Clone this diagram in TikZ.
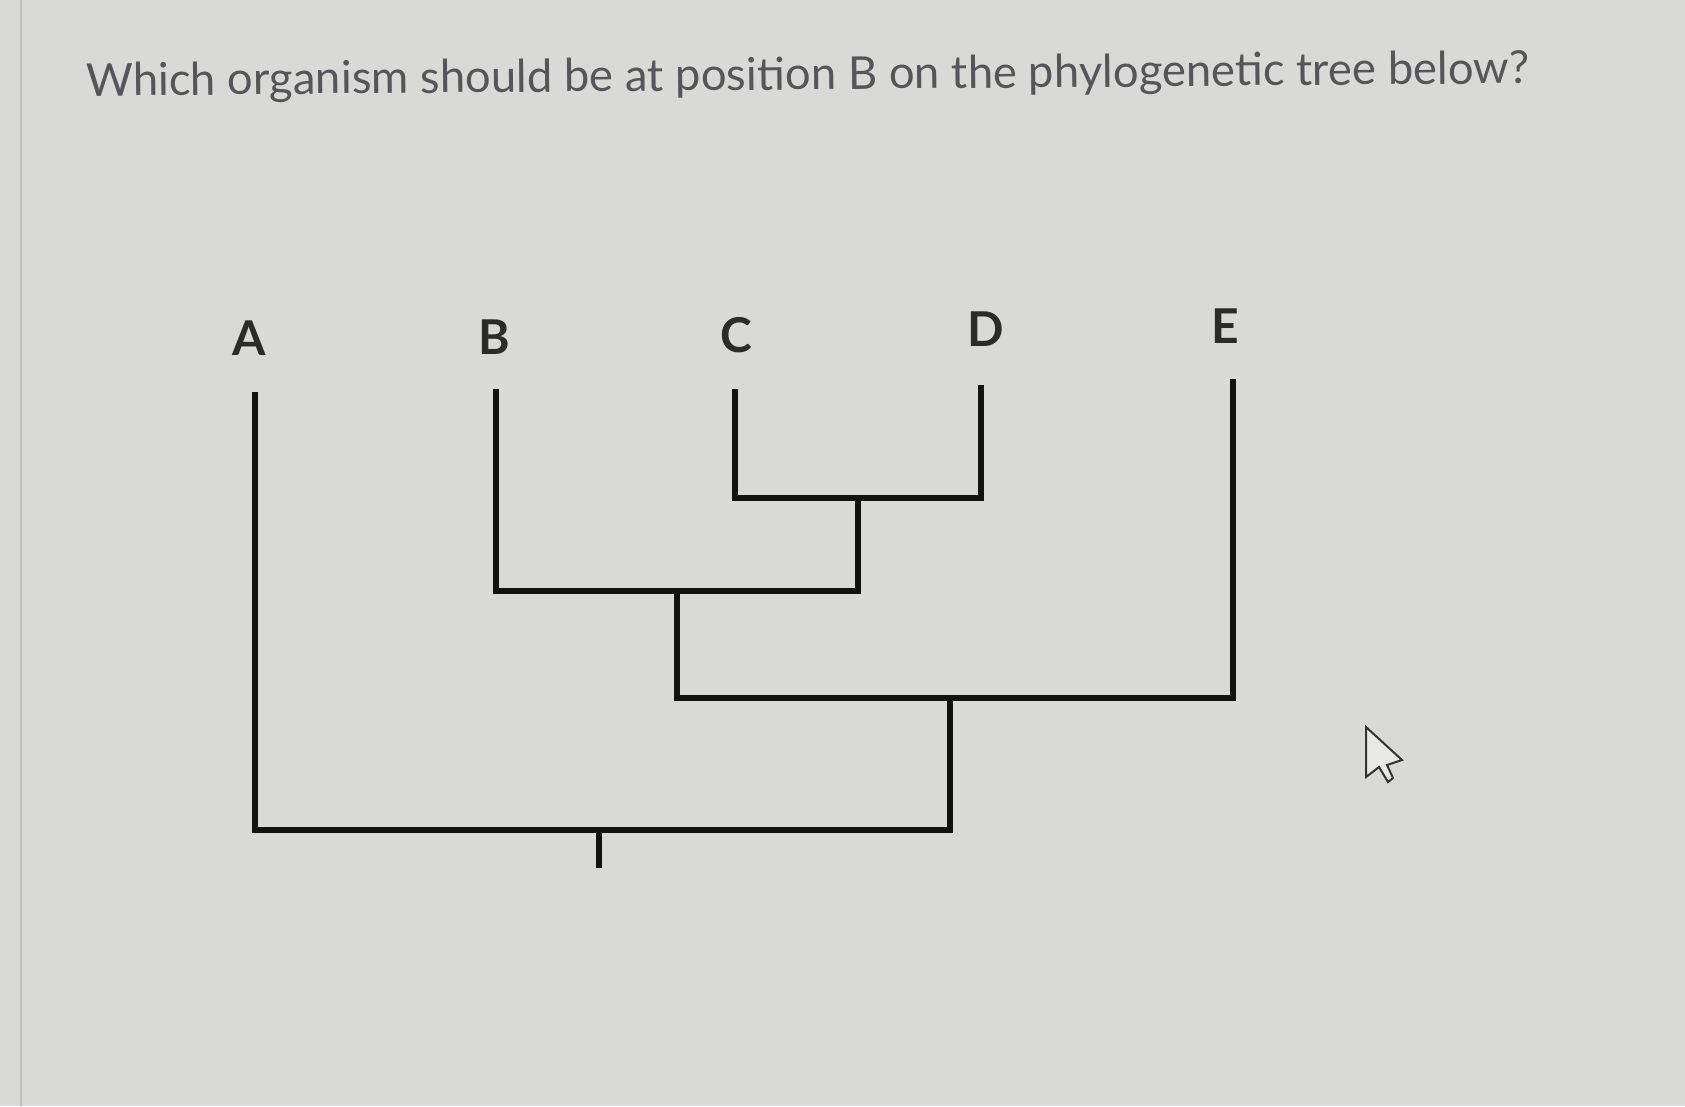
\documentclass[tikz,border=0pt]{standalone}
\usepackage{fontspec}
\setmainfont{Lato}
\usepackage{tikz}
\usetikzlibrary{positioning}

\definecolor{screen}{HTML}{D9DAD7}
\definecolor{qtext}{HTML}{56565A}
\definecolor{ltext}{HTML}{2B2B2B}

\begin{document}
\begin{tikzpicture}[x=1pt,y=-1pt,line join=miter,
                    branch/.style={draw=black!93,line width=5.5pt}]
  \tikzstyle{taxon}=[text=ltext,font=\fontsize{48}{52}\selectfont\bfseries,inner sep=0pt]

  \fill[screen] (0,0) rectangle (1685,1106);
  \useasboundingbox (0,0) rectangle (1685,1106);
  \draw[black!25,line width=2pt] (21,0) -- (21,1106);

  \node[anchor=base west,text=qtext,inner sep=0pt,rotate=0.5,
        font=\fontsize{45.4}{50}\selectfont] (question) at (86,96)
        {Which organism should be at position B on the phylogenetic tree below?};

  \node[taxon] (A) at (249,338) {A};
  \node[taxon] (B) at (494,337) {B};
  \node[taxon] (C) at (736,335) {C};
  \node[taxon] (D) at (986,329) {D};
  \node[taxon] (E) at (1225,326) {E};

  \coordinate (tA) at (255,392);
  \coordinate (tB) at (496,389);
  \coordinate (tC) at (735,389);
  \coordinate (tD) at (981,385);
  \coordinate (tE) at (1233,379);
  \coordinate (jCD) at (858,498);
  \coordinate (jBCD) at (677,591);
  \coordinate (jBCDE) at (950,698);
  \coordinate (root) at (599,830);
  \coordinate (stem) at (599,868);

  \path[branch] (tC) |- (jCD) -| (tD)
        (tB) |- (jBCD) -| (jCD)
        (jBCD) |- (jBCDE) -| (tE)
        (tA) |- (root) -| (jBCDE)
        (root) -- (stem);

  % mouse pointer
  \draw[black!80,line width=2pt,fill=screen!60!white]
    (1366,727) -- (1366,777) -- (1379,767) -- (1388,782) -- (1393,778)
    -- (1387,765) -- (1402,760) -- cycle;
\end{tikzpicture}
\end{document}
